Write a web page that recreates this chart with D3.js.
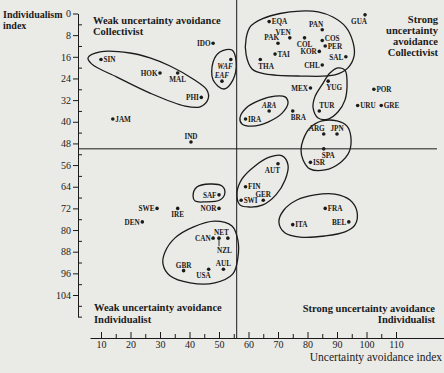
<!DOCTYPE html>
<html>
<head>
<meta charset="utf-8">
<script src="https://cdn.jsdelivr.net/npm/d3@7"></script>
<style>
  html, body { margin: 0; padding: 0; background: #eaeae6; }
  svg { display: block; }
  text { font-family: "Liberation Serif", "Times New Roman", serif; fill: #1b1b1b; }
</style>
</head>
<body>
<svg id="chart" width="444" height="373"></svg>
<script>
// Country codes and their two index values
var countries = ["SIN", "JAM", "HOK", "MAL", "PHI", "IDO", "WAF", "EAF", "IND",
  "EQA", "VEN", "PAK", "COL", "PAN", "COS", "PER", "TAI", "KOR", "SAL", "THA", "CHL", "GUA",
  "YUG", "MEX", "ARA", "IRA", "BRA", "TUR", "POR", "URU", "GRE",
  "ARG", "JPN", "SPA", "ISR", "AUT", "FIN", "GER", "SWI", "ITA", "FRA", "BEL",
  "SAF", "SWE", "IRE", "NOR", "DEN", "NET", "CAN", "NZL", "GBR", "USA", "AUL"];
var uncertainty = [10, 14, 30, 36, 44, 48, 54, 51, 40.5,
  67, 74, 70, 79, 85, 85, 86, 69, 84, 93, 64, 85, 99.5,
  87, 81, 67, 59, 75, 84, 102.5, 97, 105,
  85.5, 90, 85.5, 81, 70, 59, 65, 57.5, 75, 86, 94,
  50, 29, 36, 50, 24, 53, 48, 50, 38, 46.5, 51.5];
var individualism = [17, 39, 22, 22, 31, 11, 17, 25, 47.5,
  3, 9, 11, 9, 6, 10, 12, 15, 14, 16, 17, 19, 0.5,
  25, 27.5, 36, 39, 36, 36, 28, 34, 34,
  44.5, 44.5, 50, 55, 55.5, 64, 69, 69, 78, 72, 77,
  67, 72, 72, 72, 77, 83, 83, 83, 95, 94.5, 94.5];

// Hand-drawn cluster outlines, in (uncertainty, individualism) units
var outlines = [
  [[5.6, 16.4], [9.7, 14.2], [19.8, 14.6], [26.6, 16.4], [33.4, 19.4], [41.2, 24.2], [45.9, 28.3],
   [46.3, 31.6], [43.6, 34.5], [38.5, 34.2], [26.6, 29.4], [15.4, 23.5], [6.9, 18.7]],
  [[54.4, 13.5], [55.8, 17.9], [54.7, 24.6], [51.7, 27.9], [48, 24.6], [48, 17.9], [50.3, 14.2]],
  [[64.6, 2], [70.7, 0], [77.5, -0.9], [83.6, -0.6], [88.6, 1.3], [93, 5], [95.4, 10.5],
   [95.8, 15.7], [93.7, 20.1], [89.3, 22.7], [77.5, 23.1], [65.6, 22.3], [61.2, 20.5],
   [59.2, 15.3], [59.2, 9.1], [60.8, 4.6]],
  [[57.1, 38.6], [59.2, 34.9], [63.9, 32], [69, 30.5], [72.4, 30.8], [73.4, 33.1], [71.4, 36.8],
   [66.6, 40.1], [61.2, 41.6], [57.8, 40.8]],
  [[83.6, 38.6], [81.9, 34.9], [82.5, 30.8], [84.9, 26.4], [87.6, 22], [90.3, 20.1], [92.7, 20.9],
   [93.4, 25.3], [92.7, 32], [90.3, 36.4], [87, 39]],
  [[78.5, 46.7], [80.8, 42.3], [84.9, 39.7], [90, 39.7], [93.4, 41.6], [94.7, 45.6], [94.1, 51.2],
   [91, 55.2], [85.9, 57.8], [80.8, 57.4], [78.5, 54.1], [77.8, 50.4]],
  [[57.1, 70.7], [56.1, 66.3], [57.8, 61.1], [62.2, 56.3], [67.3, 53], [71.4, 52.6], [73.4, 56],
   [72.4, 61.5], [69.3, 67], [64.9, 70.7], [60.5, 71.5]],
  [[70.3, 77], [72, 72.6], [76.4, 68.9], [82.5, 67], [89.3, 66.7], [94.4, 68.9], [96.8, 73.3],
   [96.1, 78.1], [92.7, 80.7], [85.9, 82.2], [77.5, 82.6], [72.4, 81.1]],
  [[41.2, 67.4], [42.5, 64.1], [46.9, 63], [51, 63.7], [52, 66.3], [50.3, 68.9], [45.3, 69.6], [41.9, 69.3]],
  [[31.7, 88.1], [35.1, 82.9], [41.2, 78.9], [48.6, 76.7], [54.4, 78.5], [56.4, 83.7], [56.4, 90.3],
   [54.7, 96.2], [48.6, 99.5], [40.2, 99.5], [33.4, 96.9], [31, 92.5]]
];

// Where the dividing lines cross
var splitUncertainty = 56;
var splitIndividualism = 50;

// Tick values
var xMajorTicks = d3.range(10, 111, 10);
var xMinorTicks = d3.range(15, 110, 10);
var yMajorTicks = d3.range(0, 105, 8);
var yMinorTicks = d3.range(4, 109, 8).concat([112]);

// Quadrant and axis texts
var topLeftText = ["Weak uncertainty avoidance", "Collectivist"];
var topRightText = ["Strong", "uncertainty", "avoidance", "Collectivist"];
var bottomLeftText = ["Weak uncertainty avoidance", "Individualist"];
var bottomRightText = ["Strong uncertainty avoidance", "Individualist"];
var yTitle = ["Individualism", "index"];
var xTitle = "Uncertainty avoidance index";

// Label side for each country (compass point from the dot)
var labelSide = {
  SIN: "e", JAM: "e", HOK: "w", MAL: "s", PHI: "w", IDO: "w", WAF: "sw", EAF: "n", IND: "n",
  EQA: "e", VEN: "nw", PAK: "nw", COL: "s", PAN: "nw", COS: "eu", PER: "e", TAI: "e", KOR: "w",
  SAL: "w", THA: "se", CHL: "w", GUA: "sw", YUG: "se", MEX: "w", ARA: "n", IRA: "e", BRA: "se",
  TUR: "ne", POR: "e", URU: "e", GRE: "e", ARG: "nw", JPN: "n", SPA: "se", ISR: "e", AUT: "sw",
  FIN: "e", GER: "n", SWI: "e", ITA: "e", FRA: "e", BEL: "w", SAF: "w", SWE: "w", IRE: "s",
  NOR: "w", DEN: "w", NET: "nw", CAN: "w", NZL: "stem", GBR: "n", USA: "sw", AUL: "n"
};
var italicLabels = ["WAF", "EAF", "ARA"];

var sideStyle = {
  e:    { anchor: "start",  dx: 2.5, dy: 2.7 },
  eu:   { anchor: "start",  dx: 2.5, dy: 0.5 },
  w:    { anchor: "end",    dx: -2.5, dy: 2.7 },
  n:    { anchor: "middle", dx: 0, dy: -3 },
  s:    { anchor: "middle", dx: 0, dy: 9 },
  ne:   { anchor: "start",  dx: 0, dy: -3 },
  nw:   { anchor: "end",    dx: 1, dy: -3 },
  se:   { anchor: "start",  dx: -2, dy: 9 },
  sw:   { anchor: "end",    dx: 2, dy: 9 },
  stem: { anchor: "start",  dx: -2, dy: 15 }
};

var ink = "#1b1b1b";
var svg = d3.select("#chart");

var x = d3.scaleLinear().domain([10, 110]).range([101, 396]);
var y = d3.scaleLinear().domain([0, 104]).range([13.5, 295]);

// Dividing lines
svg.append("line")
  .attr("x1", x(splitUncertainty)).attr("x2", x(splitUncertainty))
  .attr("y1", 0).attr("y2", 338)
  .attr("stroke", ink).attr("stroke-width", 1);
svg.append("line")
  .attr("x1", 78).attr("x2", 437)
  .attr("y1", y(splitIndividualism)).attr("y2", y(splitIndividualism))
  .attr("stroke", ink).attr("stroke-width", 1);

// X axis (the line runs past the labelled range)
var xAxisScale = x.copy().domain([x.invert(90), x.invert(446)]).range([90, 446]);
svg.append("g")
  .attr("transform", "translate(0,338)")
  .call(d3.axisBottom(xAxisScale).tickValues(xMajorTicks)
    .tickSizeInner(-6).tickSizeOuter(0).tickPadding(3).tickFormat(d3.format("d")));
svg.append("g")
  .attr("transform", "translate(0,338)")
  .call(d3.axisBottom(xAxisScale).tickValues(xMinorTicks)
    .tickSizeInner(-4).tickSizeOuter(0).tickFormat(""))
  .select(".domain").remove();

// Y axis
var yAxisScale = y.copy().domain([0, 112]).range([y(0), y(112)]);
svg.append("g")
  .attr("transform", "translate(78,0)")
  .call(d3.axisLeft(yAxisScale).tickValues(yMajorTicks)
    .tickSize(5).tickSizeOuter(0).tickPadding(2).tickFormat(d3.format("d")));
svg.append("g")
  .attr("transform", "translate(78,0)")
  .call(d3.axisRight(yAxisScale).tickValues(yMinorTicks)
    .tickSize(4).tickSizeOuter(0).tickFormat(""))
  .select(".domain").remove();

svg.selectAll(".domain, .tick line").attr("stroke", ink).attr("stroke-width", 1);
svg.selectAll(".tick text")
  .attr("fill", ink)
  .style("font-family", "'Liberation Serif', serif")
  .style("font-size", "10px");

// Cluster outlines
var outline = d3.line()
  .x(function (d) { return x(d[0]); })
  .y(function (d) { return y(d[1]); })
  .curve(d3.curveCatmullRomClosed.alpha(0.5));
svg.append("g").selectAll("path")
  .data(outlines)
  .enter()
  .append("path")
  .attr("d", outline)
  .attr("fill", "none")
  .attr("stroke", ink)
  .attr("stroke-width", 1.3);

// Points and labels
var points = countries.map(function (c, i) {
  return { code: c, ux: uncertainty[i], iv: individualism[i] };
});
var pts = svg.append("g").selectAll("g")
  .data(points)
  .enter()
  .append("g")
  .attr("transform", function (d) { return "translate(" + x(d.ux) + "," + y(d.iv) + ")"; });
pts.append("circle").attr("r", 1.8).attr("fill", ink);
pts.filter(function (d) { return labelSide[d.code] === "stem"; })
  .append("line")
  .attr("x1", 0).attr("x2", 0).attr("y1", 1).attr("y2", 8)
  .attr("stroke", ink).attr("stroke-width", 0.9);
pts.append("text")
  .attr("x", function (d) { return sideStyle[labelSide[d.code]].dx; })
  .attr("y", function (d) { return sideStyle[labelSide[d.code]].dy; })
  .attr("text-anchor", function (d) { return sideStyle[labelSide[d.code]].anchor; })
  .style("font-size", "7.2px")
  .style("font-weight", "bold")
  .style("font-style", function (d) { return italicLabels.indexOf(d.code) >= 0 ? "italic" : "normal"; })
  .text(function (d) { return d.code; });

// Multi-line text helper
function addBlock(lines, px, firstBaseline, lineGap, anchor, size, weight) {
  var t = svg.append("text")
    .attr("text-anchor", anchor)
    .style("font-size", size + "px")
    .style("font-weight", weight);
  lines.forEach(function (s, i) {
    t.append("tspan").attr("x", px).attr("y", firstBaseline + i * lineGap).text(s);
  });
}

addBlock(topLeftText, 93, 24, 11, "start", 10.5, "bold");
addBlock(topRightText, 438, 23, 11, "end", 10.5, "bold");
addBlock(bottomLeftText, 94, 311, 11.5, "start", 10.5, "bold");
addBlock(bottomRightText, 435, 312, 11, "end", 10.5, "bold");
addBlock(yTitle, 3, 18, 10.5, "start", 10, "bold");
addBlock([xTitle], 442, 361, 12, "end", 11.5, "normal");
</script>
</body>
</html>
